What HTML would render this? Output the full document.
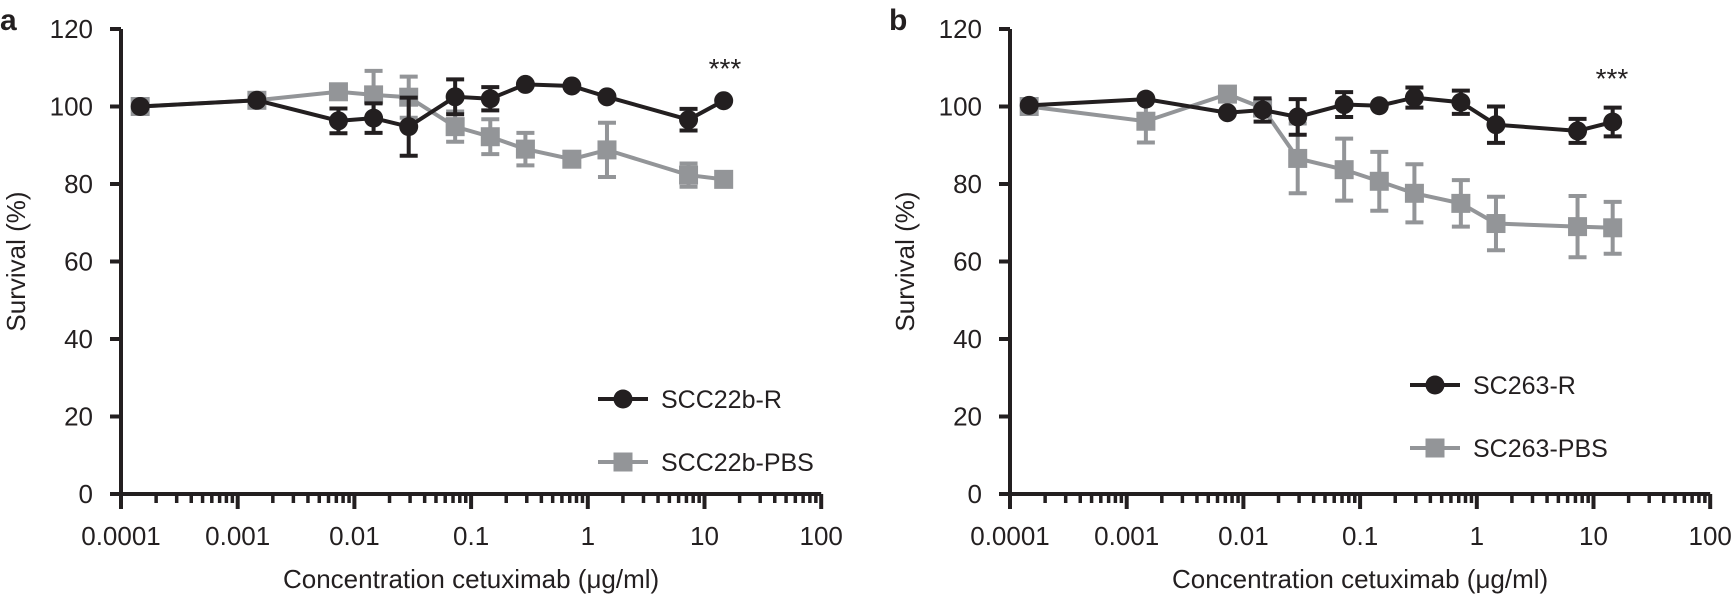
<!DOCTYPE html>
<html><head><meta charset="utf-8"><style>
body{margin:0;background:#fff;}
svg{display:block;font-family:"Liberation Sans",Arial,sans-serif;}
</style></head><body>
<svg id="chart" width="1734" height="594" viewBox="0 0 1734 594" xmlns="http://www.w3.org/2000/svg"></svg>
<script>
// Shared x categories (concentration, µg/ml)
const concA = [0.000146, 0.00146, 0.0073, 0.0146, 0.0292, 0.073, 0.146, 0.292, 0.73, 1.46, 7.3, 14.6];
const concB = [0.000146, 0.00146, 0.0073, 0.0146, 0.0292, 0.073, 0.146, 0.292, 0.73, 1.46, 7.3, 14.6];
// Panel a
const aRVals = [100, 101.6, 96.3, 97, 94.8, 102.5, 102, 105.7, 105.3, 102.5, 96.6, 101.5];
const aRErr  = [0, 0, 3.2, 3.8, 7.5, 4.5, 3, 0, 0, 0, 2.8, 0];
const aPVals = [100, 101.6, 103.8, 103, 102.4, 94.8, 92.2, 89, 86.4, 88.8, 82.3, 81.2];
const aPErr  = [0, 0, 0, 6.2, 5.3, 3.9, 4.5, 4.2, 0, 7, 3, 0];
// Panel b
const bRVals = [100.3, 101.9, 98.4, 99.1, 97.3, 100.5, 100.2, 102.3, 101.1, 95.3, 93.7, 96];
const bRErr  = [0, 0, 0, 3, 4.6, 3.2, 0, 2.6, 3, 4.7, 3.1, 3.7];
const bPVals = [100, 96.2, 103.2, 99.6, 86.6, 83.7, 80.7, 77.6, 75, 69.8, 69, 68.7];
const bPErr  = [0, 5.5, 0, 0, 9, 8, 7.6, 7.5, 6, 6.9, 7.9, 6.7];
const yTicks = [0, 20, 40, 60, 80, 100, 120];
const xTickLabels = ["0.0001", "0.001", "0.01", "0.1", "1", "10", "100"];

const NS = "http://www.w3.org/2000/svg";
const svg = document.getElementById("chart");
const BLACK = "#231f20", GREY = "#939598";
function mk(tag, attrs, parent) {
  const e = document.createElementNS(NS, tag);
  for (const k in attrs) e.setAttribute(k, attrs[k]);
  (parent || svg).appendChild(e);
  return e;
}
const Y0 = 494, YPX = 3.875, DEC = 116.7;
function yScale(v) { return Y0 - v * YPX; }

function panel(ox, letter, rV, rE, pV, pE, conc, lblR, lblP, legX, legY1, legY2, starX, starY, id) {
  const g = mk("g", {});
  
  
  const xScale = c => ox + DEC * (Math.log10(c) + 4);
  // panel letter
  const L = mk("text", {x: ox - 121, y: 30, "font-size": 30, "font-weight": "bold", fill: BLACK}, g);
  L.textContent = letter;
  
  
  // axes
  const ax = mk("path", {d: `M${ox} ${yScale(120)} V${Y0} H${ox + DEC * 6}`, stroke: BLACK, "stroke-width": 4, fill: "none"}, g);
  
  
  yTicks.forEach(t => {
    const y = yScale(t);
    mk("line", {x1: ox - 11, x2: ox, y1: y, y2: y, stroke: BLACK, "stroke-width": 4}, g);
    const tx = mk("text", {x: ox - 28, y: y + 9, "font-size": 26, "text-anchor": "end", fill: BLACK}, g);
    tx.textContent = t;
    
    
  });
  for (let d = 0; d <= 6; d++) {
    const x = ox + DEC * d;
    mk("line", {x1: x, x2: x, y1: Y0, y2: Y0 + 15, stroke: BLACK, "stroke-width": 4}, g);
    const tx = mk("text", {x: x, y: 545, "font-size": 26, "text-anchor": "middle", fill: BLACK}, g);
    tx.textContent = xTickLabels[d];
    
    
    if (d < 6) for (let m = 2; m <= 9; m++) {
      const xm = x + DEC * Math.log10(m);
      mk("line", {x1: xm, x2: xm, y1: Y0, y2: Y0 + 9, stroke: BLACK, "stroke-width": 3.5}, g);
    }
  }
  const xt = mk("text", {x: ox + DEC * 3, y: 588, "font-size": 26, "text-anchor": "middle", fill: BLACK}, g);
  xt.textContent = "Concentration cetuximab (\u03bcg/ml)";
  
  
  const yt = mk("text", {x: 0, y: 0, "font-size": 26, "text-anchor": "middle", fill: BLACK, transform: `translate(${ox - 96},${yScale(60)}) rotate(-90)`}, g);
  yt.textContent = "Survival (%)";
  
  

  function series(vals, errs, color, shape, name) {
    const sg = mk("g", {}, g);
    
    
    const pts = vals.map((v, i) => xScale(conc[i]) + "," + yScale(v)).join(" ");
    mk("polyline", {points: pts, stroke: color, "stroke-width": 4, fill: "none"}, sg);
    vals.forEach((v, i) => {
      const x = xScale(conc[i]), y = yScale(v), e = errs[i] * YPX;
      if (errs[i] > 0) {
        const eb = mk("path", {d: `M${x} ${y - e} V${y + e} M${x - 9} ${y - e} H${x + 9} M${x - 9} ${y + e} H${x + 9}`, stroke: color, "stroke-width": 4, fill: "none"}, sg);
        
        
      }
      let m;
      if (shape === "c") m = mk("circle", {cx: x, cy: y, r: 9.5, fill: color}, sg);
      else m = mk("rect", {x: x - 9.5, y: y - 9.5, width: 19, height: 19, fill: color}, sg);
      
      
    });
  }
  series(pV, pE, GREY, "s", "series-pbs-" + id);
  series(rV, rE, BLACK, "c", "series-r-" + id);

  // legend
  [[legY1, BLACK, "c", lblR], [legY2, GREY, "s", lblP]].forEach(([ly, col, sh, lbl]) => {
    const lg = mk("g", {}, g);
    
    
    mk("line", {x1: legX - 25, x2: legX + 25, y1: ly, y2: ly, stroke: col, "stroke-width": 4}, lg);
    if (sh === "c") mk("circle", {cx: legX, cy: ly, r: 9.5, fill: col}, lg);
    else mk("rect", {x: legX - 9.5, y: ly - 9.5, width: 19, height: 19, fill: col}, lg);
    const t = mk("text", {x: legX + 38, y: ly + 9, "font-size": 25, fill: BLACK}, lg);
    t.textContent = lbl;
  });
  const st = mk("text", {x: starX, y: starY, "font-size": 28, "text-anchor": "middle", fill: BLACK}, g);
  st.textContent = "***";
  
  
}
panel(121, "a", aRVals, aRErr, aPVals, aPErr, concA, "SCC22b-R", "SCC22b-PBS", 623, 399, 462, 725, 78, "a");
panel(1010, "b", bRVals, bRErr, bPVals, bPErr, concB, "SC263-R", "SC263-PBS", 1435, 385, 448, 1612, 88, "b");
</script>
</body></html>
